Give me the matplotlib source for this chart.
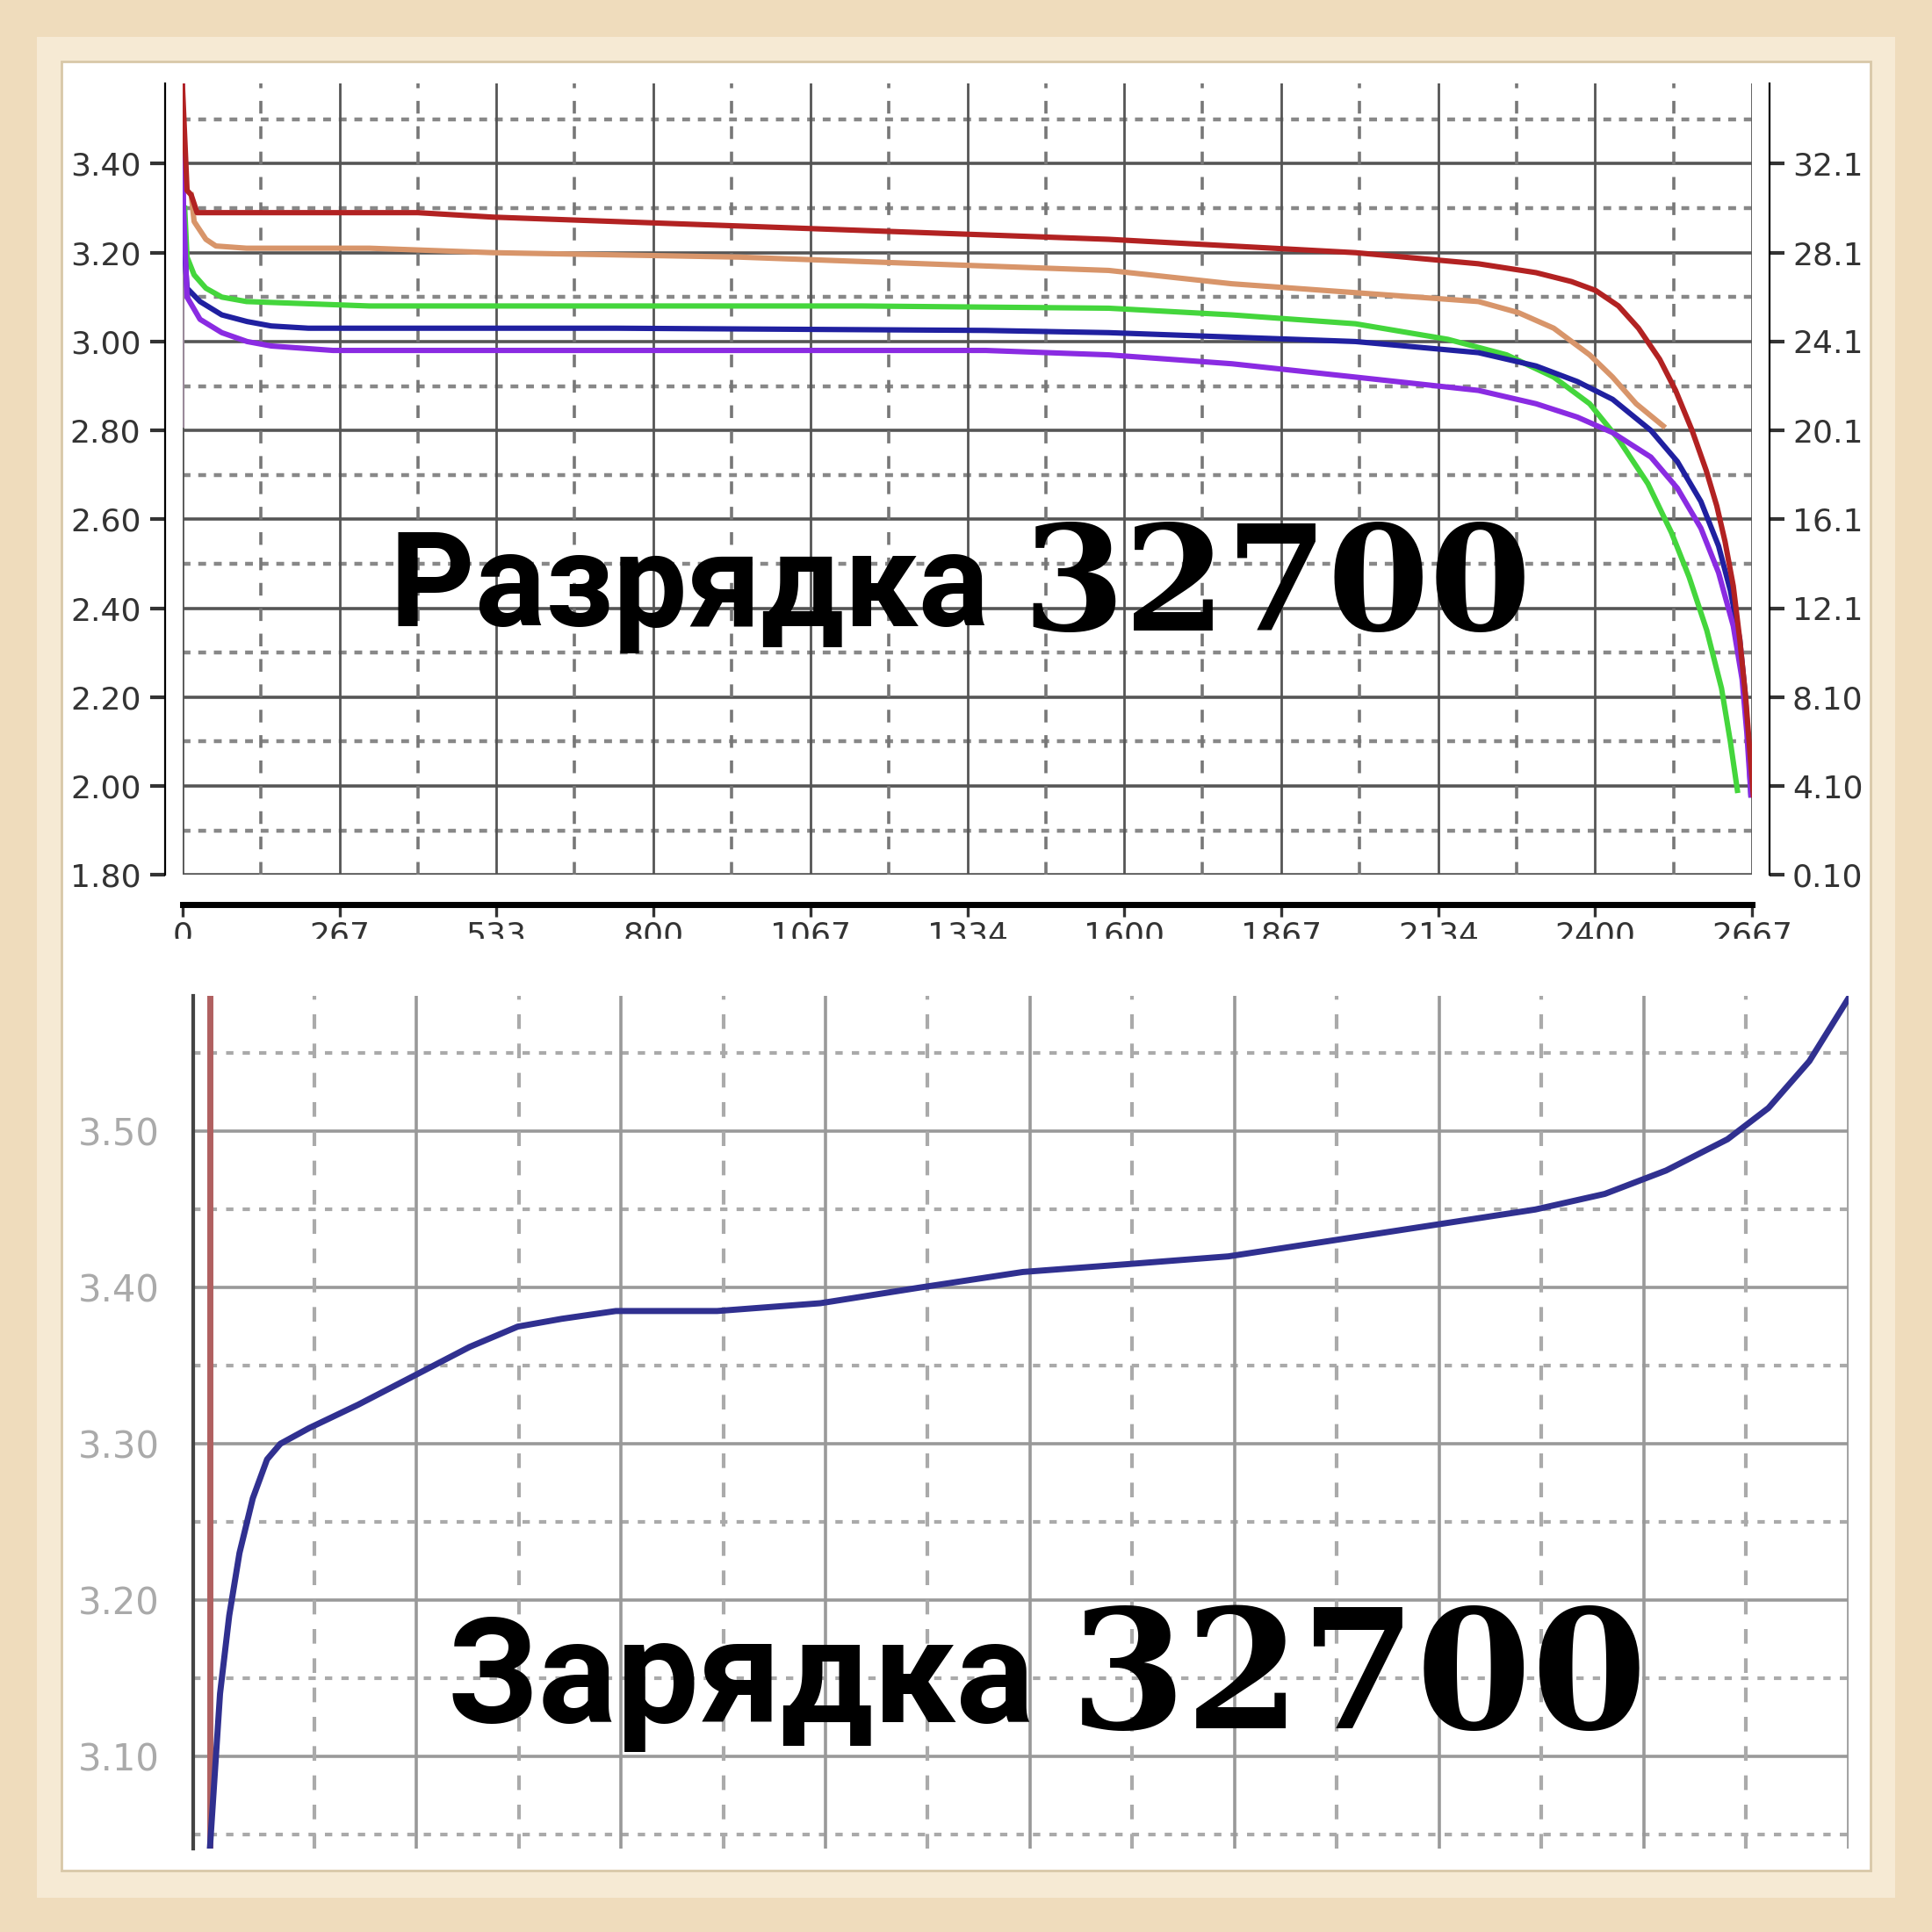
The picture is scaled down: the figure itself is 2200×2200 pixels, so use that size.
import matplotlib
matplotlib.use("Agg")
import matplotlib.pyplot as plt
from matplotlib.patches import Rectangle
import numpy as np

# ---- top chart (discharge), x in mAh, y in V ----
xticks_top = [0, 267, 533, 800, 1067, 1334, 1600, 1867, 2134, 2400, 2667]
yticks_top = [1.80, 2.00, 2.20, 2.40, 2.60, 2.80, 3.00, 3.20, 3.40]
rticks = ["0.10", "4.10", "8.10", "12.1", "16.1", "20.1", "24.1", "28.1", "32.1"]

red_x = [0, 8, 15, 25, 400, 527, 737, 946, 1155, 1365, 1574, 1783, 1993, 2202, 2300, 2360, 2401, 2440, 2474, 2510, 2537, 2565, 2589, 2607, 2621, 2635, 2646, 2656, 2663, 2669]
red_y = [3.58, 3.34, 3.33, 3.29, 3.29, 3.28, 3.27, 3.26, 3.25, 3.24, 3.23, 3.215, 3.20, 3.175, 3.155, 3.135, 3.115, 3.08, 3.03, 2.96, 2.89, 2.80, 2.71, 2.63, 2.55, 2.45, 2.33, 2.20, 2.08, 1.98]
orange_x = [15, 20, 40, 57, 109, 318, 527, 946, 1155, 1574, 1783, 1993, 2202, 2270, 2330, 2391, 2430, 2470, 2516]
orange_y = [3.33, 3.27, 3.23, 3.215, 3.21, 3.21, 3.20, 3.19, 3.18, 3.16, 3.13, 3.11, 3.09, 3.065, 3.03, 2.97, 2.92, 2.86, 2.81]
green_x = [4, 8, 20, 40, 67, 109, 318, 737, 1155, 1574, 1783, 1993, 2150, 2250, 2330, 2391, 2440, 2490, 2530, 2560, 2590, 2615, 2630, 2642]
green_y = [3.30, 3.19, 3.15, 3.12, 3.10, 3.09, 3.08, 3.08, 3.08, 3.075, 3.06, 3.04, 3.005, 2.97, 2.92, 2.86, 2.78, 2.68, 2.57, 2.47, 2.35, 2.22, 2.10, 1.99]
blue_x = [4, 8, 30, 67, 110, 151, 214, 737, 1365, 1574, 1993, 2202, 2300, 2370, 2430, 2495, 2540, 2580, 2610, 2630, 2646, 2655, 2661, 2665]
blue_y = [3.20, 3.12, 3.09, 3.06, 3.045, 3.035, 3.03, 3.03, 3.025, 3.02, 3.00, 2.975, 2.945, 2.91, 2.87, 2.80, 2.73, 2.64, 2.54, 2.44, 2.33, 2.21, 2.09, 1.98]
purple_x = [0, 2, 8, 30, 67, 110, 151, 256, 1365, 1574, 1783, 1993, 2202, 2300, 2370, 2430, 2495, 2540, 2580, 2610, 2635, 2650, 2658, 2665]
purple_y = [3.58, 3.30, 3.10, 3.05, 3.02, 3.00, 2.99, 2.98, 2.98, 2.97, 2.95, 2.92, 2.89, 2.86, 2.83, 2.795, 2.74, 2.67, 2.58, 2.48, 2.36, 2.24, 2.12, 1.98]

# ---- bottom chart (charge), x in grid units, y in V ----
yticks_bot = [3.10, 3.20, 3.30, 3.40, 3.50]
chg_x = [0.16, 0.20, 0.26, 0.35, 0.45, 0.58, 0.72, 0.85, 1.13, 1.61, 2.20, 2.70, 3.17, 3.60, 4.13, 5.12, 6.13, 7.10, 8.11, 9.13, 10.12, 11.12, 12.12, 13.12, 13.80, 14.40, 15.00, 15.40, 15.80, 16.18]
chg_y = [3.04, 3.08, 3.14, 3.19, 3.23, 3.265, 3.29, 3.30, 3.31, 3.325, 3.345, 3.362, 3.375, 3.38, 3.385, 3.385, 3.39, 3.40, 3.41, 3.415, 3.42, 3.43, 3.44, 3.45, 3.46, 3.475, 3.495, 3.515, 3.545, 3.585]
red_line_x = 0.16

W = 1568.0
def fx(p): return p / W
def fy(p): return 1 - p / W

fig = plt.figure(figsize=(11, 11), dpi=200)
fig.patch.set_facecolor("#efdcbc")
fig.add_artist(Rectangle((fx(30), fy(1540)), fx(1508), fx(1510), facecolor="#f6ead4", edgecolor="none", zorder=0))
fig.add_artist(Rectangle((fx(50), fy(1518)), fx(1468), fx(1468), facecolor="white", edgecolor="#d8c8a8", lw=1, zorder=0))

gridc = "#555555"
# top axes
ax = fig.add_axes([fx(148), fy(710), fx(1422 - 148), fx(710 - 68)])
ax.set_xlim(0, 2667)
ax.set_ylim(1.80, 3.58)
ax.set_yticks(yticks_top)
ax.set_yticklabels([f"{v:.2f}" for v in yticks_top])
ax.set_xticks(xticks_top)
ax.set_xticklabels([str(v) for v in xticks_top])
for v in yticks_top:
    ax.axhline(v, color=gridc, lw=1.3, zorder=1)
for v in yticks_top[:-1]:
    ax.axhline(v + 0.1, color="#888888", lw=1.6, ls=(0, (2, 2)), zorder=1)
ax.axhline(3.50, color="#888888", lw=1.6, ls=(0, (2, 2)), zorder=1)
for v in xticks_top:
    ax.axvline(v, color=gridc, lw=1.0, zorder=1)
for i in range(len(xticks_top) - 1):
    ax.axvline((xticks_top[i] + xticks_top[i + 1]) / 2, color="#777777", lw=1.3, ls=(0, (4, 4)), zorder=1)
ax.plot([0, 0], [2.81, 3.58], color="#9a8a9a", lw=1.5, zorder=2)
for xs, ys, c in [(orange_x, orange_y, "#d8956a"), (green_x, green_y, "#44d63c"),
                  (blue_x, blue_y, "#2020a0"), (purple_x, purple_y, "#8a2be2"),
                  (red_x, red_y, "#b22222")]:
    ax.plot(xs, ys, color=c, lw=2.2, zorder=3)
ax.spines["top"].set_visible(False)
ax.spines["left"].set_position(("outward", 7))
ax.spines["bottom"].set_position(("outward", 12))
ax.spines["bottom"].set_linewidth(2.5)
ax.spines["right"].set_visible(False)
ax.tick_params(axis="y", length=6, width=1.5, labelsize=13, colors="#333333", pad=4)
ax.tick_params(axis="x", length=5, width=1.2, labelsize=13, colors="#333333", pad=2)
ax2 = ax.twinx()
ax2.set_ylim(0.1, 0.1 + (3.58 - 1.8) / 0.2 * 4)
ax2.set_yticks([0.1 + 4 * i for i in range(9)])
ax2.set_yticklabels(rticks)
ax2.spines["top"].set_visible(False)
ax2.spines["left"].set_visible(False)
ax2.spines["bottom"].set_visible(False)
ax2.spines["right"].set_position(("outward", 7))
ax2.tick_params(axis="y", length=6, width=1.5, labelsize=13, colors="#333333")
ax.text(0.535, 0.36, "Разрядка ", transform=ax.transAxes, ha="right", va="center",
        fontsize=54, fontweight="bold", family="Roboto", color="black", zorder=10)
ax.text(0.535, 0.36, "32700", transform=ax.transAxes, ha="left", va="center",
        fontsize=60, fontweight="bold", family="DejaVu Serif", color="black", zorder=10)

# cover cut-off part of labels
fig.add_artist(Rectangle((fx(68), fy(806)), fx(1432), fx(44), facecolor="white", edgecolor="none", zorder=20))

# bottom axes
bx = fig.add_axes([fx(157), fy(1500), fx(1500 - 157), fx(1500 - 808)])
bx.set_xlim(0, 16.18)
bx.set_ylim(3.041, 3.587)
bx.set_yticks(yticks_bot)
bx.set_yticklabels([f"{v:.2f}" for v in yticks_bot])
bx.set_xticks([])
for v in yticks_bot:
    bx.axhline(v, color="#999999", lw=1.3, zorder=1)
for v in [3.05, 3.15, 3.25, 3.35, 3.45, 3.55]:
    bx.axhline(v, color="#aaaaaa", lw=1.5, ls=(0, (2, 2.5)), zorder=1)
for k in range(8):
    bx.axvline(2.18 + 2 * k, color="#999999", lw=1.3, zorder=1)
    bx.axvline(1.18 + 2 * k, color="#aaaaaa", lw=1.5, ls=(0, (4, 4)), zorder=1)
bx.axvline(red_line_x, color="#b06060", lw=2.5, zorder=2)
bx.plot(chg_x, chg_y, color="#303090", lw=2.5, zorder=3)
for s in ["top", "right", "bottom"]:
    bx.spines[s].set_visible(False)
bx.spines["left"].set_color("#444444")
bx.spines["left"].set_linewidth(1.5)
bx.tick_params(axis="y", length=0, labelsize=15, colors="#aaaaaa", pad=14)
bx.text(0.53, 0.195, "Зарядка ", transform=bx.transAxes, ha="right", va="center",
        fontsize=60, fontweight="bold", family="Roboto", color="black", zorder=10)
bx.text(0.53, 0.195, "32700", transform=bx.transAxes, ha="left", va="center",
        fontsize=68, fontweight="bold", family="DejaVu Serif", color="black", zorder=10)

fig.savefig("out.png", dpi=200, facecolor=fig.get_facecolor())
